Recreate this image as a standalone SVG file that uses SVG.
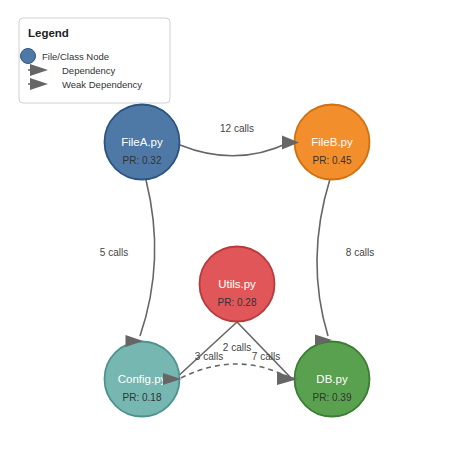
<svg xmlns="http://www.w3.org/2000/svg" width="474" height="474" viewBox="0 0 474 474">
<style>
text{font-family:"Liberation Sans",Arial,sans-serif}
.edge{fill:none;stroke:#666;stroke-width:1.6}
.dash{stroke-dasharray:5,4}
.ah{fill:#666}
.lbl{font-size:10px;fill:#444;text-anchor:middle}
.nm{font-size:11.5px;fill:#fff;text-anchor:middle}
.pr{font-size:10px;fill:#333;text-anchor:middle}
.node{stroke-width:1.8}
.lg{font-size:9.5px;fill:#333}
</style>
<rect width="474" height="474" fill="#fff"/>
<g id="legend">
<rect x="19" y="18" width="151" height="85" rx="4" fill="#fff" stroke="#d0d0d0" stroke-width="1"/>
<text x="28" y="37" font-size="11.5" font-weight="bold" fill="#222">Legend</text>
<circle cx="28" cy="56" r="7.5" fill="#4e79a7" stroke="#2f5580" stroke-width="1"/>
<text class="lg" x="42" y="60">File/Class Node</text>
<line x1="28" y1="70" x2="40" y2="70" stroke="#666" stroke-width="1.5"/>
<polygon class="ah" points="30,64 48,70 30,76"/>
<text class="lg" x="62" y="74">Dependency</text>
<line x1="28" y1="84" x2="40" y2="84" stroke="#666" stroke-width="1.5"/>
<polygon class="ah" points="30,78 48,84 30,90"/>
<text class="lg" x="62" y="88">Weak Dependency</text>
</g>
<g id="connectors">
<path class="edge" d="M180,145 Q237,168 290,142"/>
<path class="edge" d="M146,180 Q166,260 140,336"/>
<path class="edge" d="M330,179 Q305,260 328,336"/>
<path class="edge" d="M237,322 L175,379"/>
<path class="edge" d="M237,322 L292,379"/>
<path class="edge dash" d="M181,378 Q237,350 290,378"/>
<text class="lbl" x="237" y="132">12 calls</text>
<text class="lbl" x="114" y="256">5 calls</text>
<text class="lbl" x="360" y="256">8 calls</text>
<text class="lbl" x="209" y="360">3 calls</text>
<text class="lbl" x="237" y="351">2 calls</text>
<text class="lbl" x="266" y="360">7 calls</text>
</g>
<g id="FileA">
<circle class="node" cx="142" cy="142" r="37.5" fill="#4e79a7" stroke="#2c5480"/>
<text class="nm" x="142" y="146">FileA.py</text>
<text class="pr" x="142" y="164">PR: 0.32</text>
</g>
<g id="FileB">
<circle class="node" cx="332" cy="142" r="37.5" fill="#f28e2b" stroke="#d0700f"/>
<text class="nm" x="332" y="146">FileB.py</text>
<text class="pr" x="332" y="164">PR: 0.45</text>
</g>
<g id="Utils">
<circle class="node" cx="237" cy="284" r="37.5" fill="#e15759" stroke="#b83a3c"/>
<text class="nm" x="237" y="288">Utils.py</text>
<text class="pr" x="237" y="306">PR: 0.28</text>
</g>
<g id="Config">
<circle class="node" cx="142" cy="379" r="37.5" fill="#76b7b2" stroke="#4f928d"/>
<text class="nm" x="142" y="383">Config.py</text>
<text class="pr" x="142" y="401">PR: 0.18</text>
</g>
<g id="DB">
<circle class="node" cx="332" cy="379" r="37.5" fill="#59a14f" stroke="#3b7d33"/>
<text class="nm" x="332" y="383">DB.py</text>
<text class="pr" x="332" y="401">PR: 0.39</text>
</g>
<g id="arrowheads">
<polygon class="ah" points="163,373 181,379 163,385"/>
<polygon class="ah" points="277,372 298,379 277,385"/>
<polygon class="ah" points="282,135.5 299,142.5 282,149.5"/>
<polygon class="ah" points="125.5,335 143,341 125.5,347"/>
<polygon class="ah" points="315,334.5 332,340 315,346"/>
</g>
</svg>
